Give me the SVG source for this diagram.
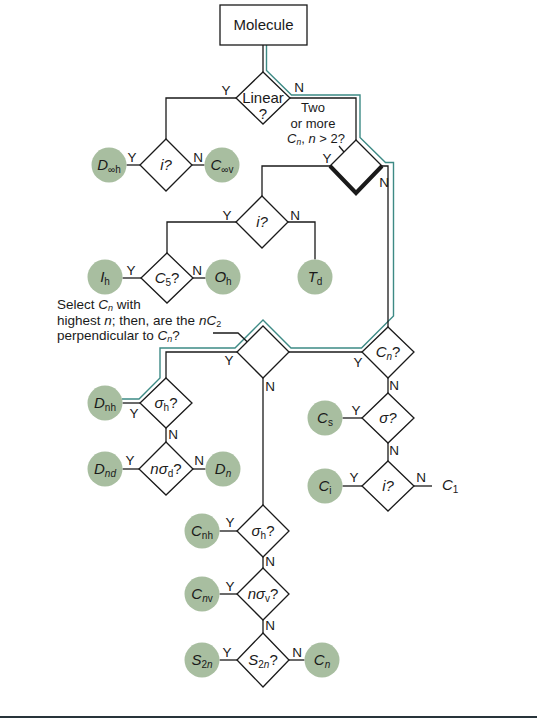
<svg xmlns="http://www.w3.org/2000/svg" width="537" height="718" viewBox="0 0 537 718">
<defs>
<style>
.ln{fill:none;stroke:#1a1a1a;stroke-width:1.3}
.tl{fill:none;stroke:#3d8a85;stroke-width:1.4}
.dm{fill:#fff;stroke:#1a1a1a;stroke-width:1.3}
.ci{fill:#a8bea0}
.t{font-family:"Liberation Sans",Arial,sans-serif;font-size:15px;fill:#1a1a1a;text-anchor:middle}
.s{text-anchor:start}
.yn{font-size:13.5px}
.it{font-style:italic}
.sub{font-size:10px}
.sel{font-size:13.5px}
.sel .sub{font-size:9px}
.two{font-size:13px}
.two .sub{font-size:8.5px}
</style>
</defs>
<rect width="537" height="718" fill="#fff"/>
<g id="connectors">
<path class="tl" d="M266.5,45 V70.5 L291.5,95 H360 V137.5 L385.5,162.5 H393.5 V316 L361.5,348 H291 L263,320 L235,348 H160 V378 L139,399 H122"/>
<path class="ln" d="M263,45 V72"/>
<path class="ln" d="M236,98 H166 V139"/>
<path class="ln" d="M290,98 H356 V140"/>
<path class="ln" d="M126.5,165 H140"/>
<path class="ln" d="M192,165 H204.5"/>
<path class="ln" d="M330,166 H262 V196"/>
<path class="ln" d="M382,166 H388 V327"/>
<path class="ln" d="M288,222 H315 V259.5"/>
<path class="ln" d="M236,222 H167 V253"/>
<path class="ln" d="M122.5,278 H141"/>
<path class="ln" d="M193,278 H205.5"/>
<path class="ln" d="M289,352 H362"/>
<path class="ln" d="M237,352 H166 V378"/>
<path class="ln" d="M122.5,403 H140"/>
<path class="ln" d="M166,428 V442"/>
<path class="ln" d="M122.5,469 H139"/>
<path class="ln" d="M193,469 H205.5"/>
<path class="ln" d="M263,378 V505"/>
<path class="ln" d="M388,378 V393"/>
<path class="ln" d="M342.5,418 H362"/>
<path class="ln" d="M388,443 V461"/>
<path class="ln" d="M342.5,486 H362"/>
<path class="ln" d="M414,486 H432"/>
<path class="ln" d="M219.5,531 H237"/>
<path class="ln" d="M263,557 V568"/>
<path class="ln" d="M219.5,594 H237"/>
<path class="ln" d="M263,620 V633"/>
<path class="ln" d="M219.5,660 H237"/>
<path class="ln" d="M289,660 H304.5"/>
<path class="ln" d="M339,146 L349,158"/>
<path class="ln" d="M213,333 H238 L262,356"/>
<g class="t yn">
<text x="226" y="95">Y</text><text x="299" y="92">N</text>
<text x="132" y="162">Y</text><text x="198" y="162">N</text>
<text x="327" y="163">Y</text><text x="384" y="187">N</text>
<text x="227" y="220">Y</text><text x="295" y="220">N</text>
<text x="131" y="275">Y</text><text x="197" y="275">N</text>
<text x="229" y="365">Y</text><text x="270" y="391">N</text>
<text x="358" y="367">Y</text><text x="394" y="390">N</text>
<text x="134" y="418">Y</text><text x="173" y="439">N</text>
<text x="130" y="465">Y</text><text x="199" y="465">N</text>
<text x="356" y="415">Y</text><text x="394" y="455">N</text>
<text x="354" y="482">Y</text><text x="421" y="482">N</text>
<text x="230" y="527">Y</text><text x="270" y="566">N</text>
<text x="230" y="591">Y</text><text x="270" y="630">N</text>
<text x="227" y="657">Y</text><text x="297" y="657">N</text>
</g>
</g>
<g id="molecule"><rect x="220" y="5" width="87" height="40" fill="#fff" stroke="#1a1a1a" stroke-width="1.3"/><text class="t" x="263.5" y="30">Molecule</text></g>
<g id="q-linear"><polygon class="dm" points="263,72 290,98 263,124 236,98"/><text class="t" x="263" y="102.5" font-size="14">Linear</text><text class="t" x="263" y="119" font-size="14">?</text></g>
<g id="q-i1"><polygon class="dm" points="166,139 192,165 166,191 140,165"/><text class="t it" x="166" y="170">i?</text></g>
<g id="n-dinfh"><circle class="ci" cx="109" cy="165" r="17.5"/><text class="t" x="109" y="170"><tspan class="it">D</tspan><tspan class="sub" dy="3">∞h</tspan></text></g>
<g id="n-cinfv"><circle class="ci" cx="222" cy="165" r="17.5"/><text class="t" x="222" y="170"><tspan class="it">C</tspan><tspan class="sub" dy="3">∞v</tspan></text></g>
<g id="q-two"><polygon class="dm" points="356,140 382,166 356,193 330,166"/><polyline points="330,166 356,193 382,166" fill="none" stroke="#1a1a1a" stroke-width="4"/></g>
<g id="t-two"><text class="t two" x="313" y="112">Two</text><text class="t two" x="313" y="127.5">or more</text><text class="t two" x="316" y="143"><tspan class="it">C</tspan><tspan class="sub it" dy="2">n</tspan><tspan dy="-2">, </tspan><tspan class="it">n</tspan> &gt; 2?</text></g>
<g id="q-i2"><polygon class="dm" points="262,196 288,222 262,248 236,222"/><text class="t it" x="262" y="227">i?</text></g>
<g id="n-td"><circle class="ci" cx="315" cy="277" r="17.5"/><text class="t" x="315" y="282"><tspan class="it">T</tspan><tspan class="sub" dy="3">d</tspan></text></g>
<g id="q-c5"><polygon class="dm" points="167,253 193,278 167,303 141,278"/><text class="t" x="167" y="283"><tspan class="it">C</tspan><tspan class="sub" dy="3">5</tspan><tspan dy="-3">?</tspan></text></g>
<g id="n-ih"><circle class="ci" cx="105" cy="277" r="17.5"/><text class="t" x="105" y="282"><tspan class="it">I</tspan><tspan class="sub" dy="3">h</tspan></text></g>
<g id="n-oh"><circle class="ci" cx="223" cy="277" r="17.5"/><text class="t" x="223" y="282"><tspan class="it">O</tspan><tspan class="sub" dy="3">h</tspan></text></g>
<g id="t-select"><text class="t s sel" x="57" y="309">Select <tspan class="it">C</tspan><tspan class="sub it" dy="2">n</tspan><tspan dy="-2"> with</tspan></text><text class="t s sel" x="57" y="324.5">highest <tspan class="it">n</tspan>; then, are the <tspan class="it">nC</tspan><tspan class="sub" dy="2">2</tspan></text><text class="t s sel" x="57" y="340">perpendicular to <tspan class="it">C</tspan><tspan class="sub it" dy="2">n</tspan><tspan dy="-2">?</tspan></text></g>
<g id="q-main"><polygon class="dm" points="263,326 289,352 263,378 237,352" fill="none"/></g>
<g id="q-cn"><polygon class="dm" points="388,327 414,352 388,378 362,352"/><text class="t" x="388" y="357"><tspan class="it">C</tspan><tspan class="sub it" dy="3">n</tspan><tspan dy="-3">?</tspan></text></g>
<g id="q-sh1"><polygon class="dm" points="166,378 192,403 166,428 140,403"/><text class="t" x="166" y="408"><tspan class="it">σ</tspan><tspan class="sub" dy="3">h</tspan><tspan dy="-3">?</tspan></text></g>
<g id="n-dnh"><circle class="ci" cx="105" cy="403" r="17.5"/><text class="t" x="105" y="408"><tspan class="it">D</tspan><tspan class="sub" dy="3">nh</tspan></text></g>
<g id="q-nsd"><polygon class="dm" points="166,442 193,469 166,495 139,469"/><text class="t" x="166" y="474"><tspan class="it">nσ</tspan><tspan class="sub" dy="3">d</tspan><tspan dy="-3">?</tspan></text></g>
<g id="n-dnd"><circle class="ci" cx="105" cy="469" r="17.5"/><text class="t" x="105" y="474"><tspan class="it">D</tspan><tspan class="sub it" dy="3">nd</tspan></text></g>
<g id="n-dn"><circle class="ci" cx="223" cy="469" r="17.5"/><text class="t" x="223" y="474"><tspan class="it">D</tspan><tspan class="sub it" dy="3">n</tspan></text></g>
<g id="q-s"><polygon class="dm" points="388,393 414,418 388,443 362,418"/><text class="t it" x="388" y="423">σ?</text></g>
<g id="n-cs"><circle class="ci" cx="325" cy="418" r="17.5"/><text class="t" x="325" y="423"><tspan class="it">C</tspan><tspan class="sub" dy="3">s</tspan></text></g>
<g id="q-i3"><polygon class="dm" points="388,461 414,486 388,511 362,486"/><text class="t it" x="388" y="491">i?</text></g>
<g id="n-ci"><circle class="ci" cx="325" cy="486" r="17.5"/><text class="t" x="325" y="491"><tspan class="it">C</tspan><tspan class="sub" dy="3">i</tspan></text></g>
<g id="n-c1"><text class="t s" x="442" y="490"><tspan class="it">C</tspan><tspan class="sub" dy="3">1</tspan></text></g>
<g id="q-sh2"><polygon class="dm" points="263,505 289,531 263,557 237,531"/><text class="t" x="263" y="536"><tspan class="it">σ</tspan><tspan class="sub" dy="3">h</tspan><tspan dy="-3">?</tspan></text></g>
<g id="n-cnh"><circle class="ci" cx="202" cy="531" r="17.5"/><text class="t" x="202" y="536"><tspan class="it">C</tspan><tspan class="sub" dy="3">nh</tspan></text></g>
<g id="q-nsv"><polygon class="dm" points="263,568 289,594 263,620 237,594"/><text class="t" x="263" y="599"><tspan class="it">nσ</tspan><tspan class="sub" dy="3">v</tspan><tspan dy="-3">?</tspan></text></g>
<g id="n-cnv"><circle class="ci" cx="202" cy="594" r="17.5"/><text class="t" x="202" y="599"><tspan class="it">C</tspan><tspan class="sub" dy="3"><tspan class="it">n</tspan>v</tspan></text></g>
<g id="q-s2n"><polygon class="dm" points="263,633 289,660 263,687 237,660"/><text class="t" x="263" y="665"><tspan class="it">S</tspan><tspan class="sub" dy="3">2<tspan class="it">n</tspan></tspan><tspan dy="-3">?</tspan></text></g>
<g id="n-s2n"><circle class="ci" cx="202" cy="660" r="17.5"/><text class="t" x="202" y="665"><tspan class="it">S</tspan><tspan class="sub" dy="3">2<tspan class="it">n</tspan></tspan></text></g>
<g id="n-cn"><circle class="ci" cx="322" cy="660" r="17.5"/><text class="t" x="322" y="665"><tspan class="it">C</tspan><tspan class="sub it" dy="3">n</tspan></text></g>
<rect x="0" y="716" width="537" height="2" fill="#28343a"/>
</svg>
